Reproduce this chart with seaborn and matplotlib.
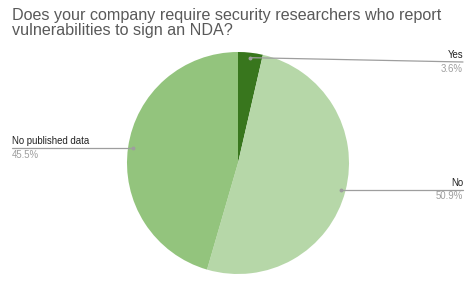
import numpy as np
import matplotlib
matplotlib.use("Agg")
import matplotlib.pyplot as plt
import seaborn as sns

categories = ["Yes", "No", "No published data"]
values = [3.6, 50.9, 45.5]
pct_labels = ["3.6%", "50.9%", "45.5%"]
colors = ["#38761d", "#b6d7a8", "#93c47d"]

sns.set_theme(style="white")
plt.rcParams["font.family"] = ["Liberation Sans", "DejaVu Sans"]

W, H = 474, 284
fig = plt.figure(figsize=(W / 100, H / 100), dpi=100)
ax = fig.add_axes([0, 0, 1, 1])

cx, cy, R = 238, H - 163, 111
wedges, _ = ax.pie(values, colors=colors, startangle=90, counterclock=False,
                   center=(cx, cy), radius=R,
                   wedgeprops=dict(linewidth=0))
ax.set_xlim(0, W)
ax.set_ylim(0, H)
ax.set_aspect("equal")
ax.axis("off")

label_pos = {
    "Yes": dict(x=463, ha="right", yline=H - 62),
    "No": dict(x=463, ha="right", yline=None),
    "No published data": dict(x=12, ha="left", yline=None),
}

for w, cat, pct in zip(wedges, categories, pct_labels):
    mid = np.deg2rad((w.theta1 + w.theta2) / 2)
    ax_ = cx + 0.955 * R * np.cos(mid)
    ay_ = cy + 0.955 * R * np.sin(mid)
    p = label_pos[cat]
    yl = p["yline"] if p["yline"] is not None else ay_
    ax.plot([ax_, p["x"]], [ay_, yl], color="#9e9e9e", lw=0.9, zorder=3)
    ax.plot([ax_], [ay_], "o", ms=1.8, color="#9e9e9e", zorder=4)
    ax.text(p["x"], yl + 2, cat, ha=p["ha"], va="bottom",
            fontsize=6.9, color="#222222")
    ax.text(p["x"], yl - 1.5, pct, ha=p["ha"], va="top",
            fontsize=6.9, color="#9e9e9e")

ax.text(12, H - 8, "Does your company require security researchers who report\nvulnerabilities to sign an NDA?",
        ha="left", va="top", fontsize=11.6, color="#595959", linespacing=1.0)

fig.savefig("out.png", dpi=100)
